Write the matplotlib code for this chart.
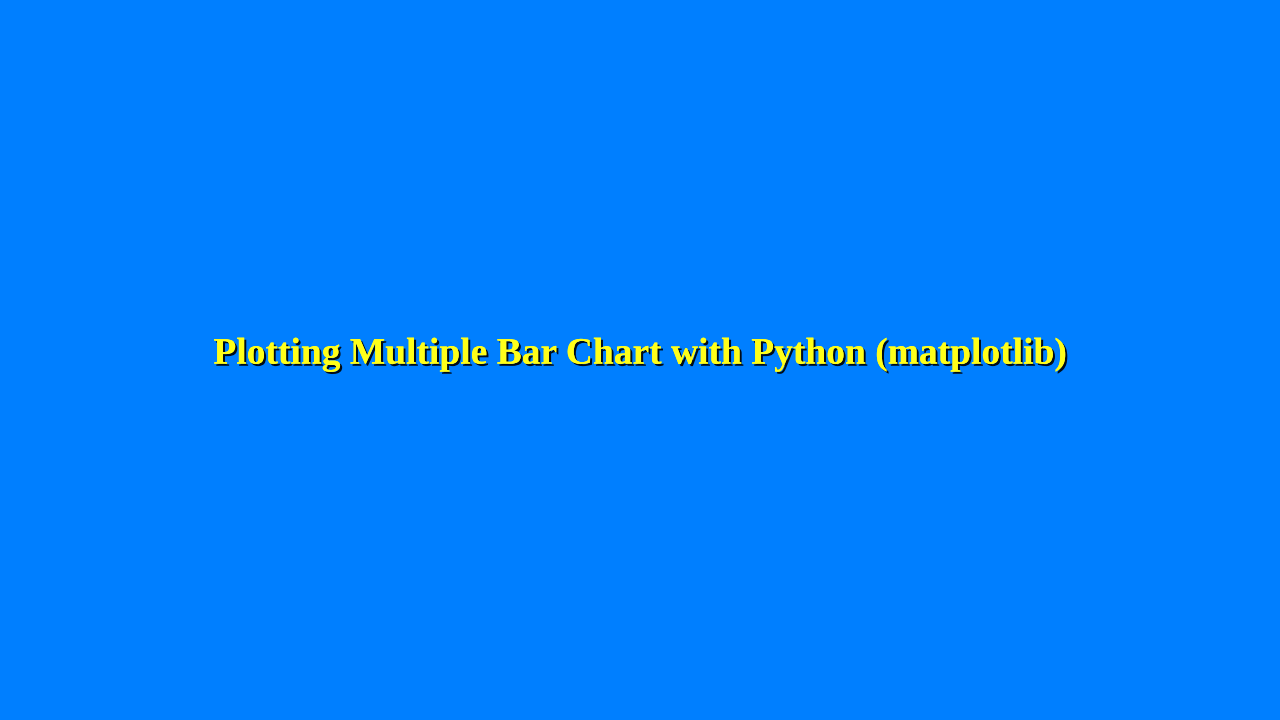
import matplotlib
matplotlib.use('Agg')
import matplotlib.pyplot as plt
import matplotlib.patheffects as pe

title = 'Plotting Multiple Bar Chart with Python (matplotlib)'
bg_color = '#007fff'
text_color = '#ffff1a'

fig = plt.figure(figsize=(12.8, 7.2), dpi=100)
fig.patch.set_facecolor(bg_color)

# title card: yellow serif text with a dark drop shadow
fig.text(0.5, 0.508, title, ha='center', va='center',
         fontsize=27, fontweight='bold', family='Liberation Serif',
         color=text_color,
         path_effects=[pe.withSimplePatchShadow(offset=(1.5, -1.5), shadow_rgbFace='black', alpha=0.9),
                       pe.Normal()])

fig.savefig('out.png', dpi=100, facecolor=bg_color)
